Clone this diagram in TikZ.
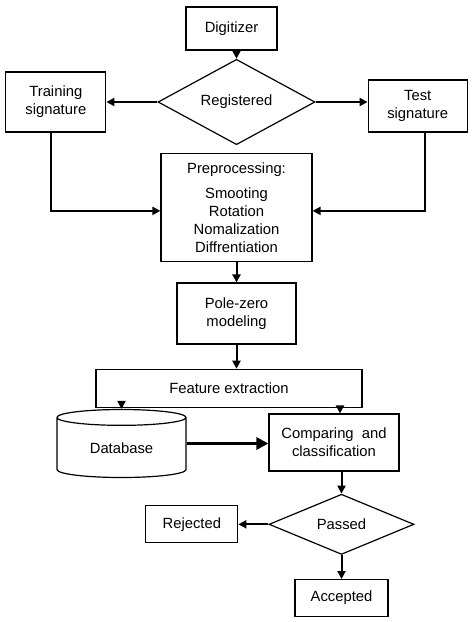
\documentclass[tikz,border=0pt]{standalone}
\usepackage{fontspec}
\setmainfont{Liberation Sans}
\usetikzlibrary{arrows.meta,shapes.geometric,positioning}

\begin{document}
\begin{tikzpicture}[
        x=1pt, y=-1pt,
        font=\fontsize{14.8}{18}\selectfont,
        node distance=20pt,
        >={Triangle[length=8pt,width=8pt]},
        box/.style={draw, line width=1.2pt, align=center, inner sep=0pt},
        decision/.style={draw, diamond, line width=1.2pt, align=center, inner sep=0pt},
        store/.style={draw, cylinder, shape border rotate=90, aspect=0.25, line width=1.2pt, inner sep=0pt},
        flow/.style={->, line width=2pt}
    ]

  \useasboundingbox (0,0) rectangle (474,622);

  % Nodes
  \node (digit) [box, minimum width=91pt, minimum height=43pt] at (231.5,28.5) {Digitizer};
  \node (reg) [decision, minimum width=157pt, minimum height=60pt] at (236.5,102) {Registered};
  \node (train) [box, left=51pt of reg, minimum width=100pt, minimum height=60pt] {Training\\signature};
  \node (test) [box, right=52pt of reg, yshift=-4pt, minimum width=99pt, minimum height=52pt] {Test\\signature};
  \node (prep) [box, below=8pt of reg, minimum width=151pt, minimum height=108pt] {Preprocessing:\\[7pt]Smooting\\Rotation\\Nomalization\\Diffrentiation};
  \node (pole) [box, below=20pt of prep, minimum width=119pt, minimum height=61pt] {Pole-zero\\modeling};
  \node (feat) [box, below=24pt of pole, xshift=-7.5pt, minimum width=266pt, minimum height=38pt] {Feature extraction};
  \node (db) [store, anchor=shape center, minimum width=129pt, minimum height=68pt] at (121.5,443.5) {Database};
  \node (comp) [box, minimum width=130pt, minimum height=57pt] at (334,442.5) {Comparing\ \ and\\classification};
  \node (passed) [decision, below=22pt of comp, xshift=7.5pt, minimum width=145pt, minimum height=60pt] {Passed};
  \node (rej) [box, left=30pt of passed, minimum width=92pt, minimum height=37pt] {Rejected};
  \node (acc) [box, below=24pt of passed, minimum width=93pt, minimum height=37pt] {Accepted};

  % Connectors
  \draw[flow] (reg.north |- digit.south) -- (reg.north);
  \draw[flow] (reg.west) -- (train.east);
  \draw[flow] (reg.east) -- (reg.east -| test.west);
  \draw[flow] ([xshift=-5pt]train.south) |- ([yshift=-3pt]prep.west);
  \draw[flow] ([xshift=7.5pt]test.south) |- ([yshift=-3pt]prep.east);
  \draw[flow] (prep.south) -- (pole.north);
  \draw[flow] (pole.south) -- (pole.south |- feat.north);
  \draw[flow] (db.top |- feat.south) -- (db.top);
  \draw[flow] ([xshift=6pt]comp.north |- feat.south) -- ([xshift=6pt]comp.north);
  \draw[->, line width=3.5pt, >={Triangle[length=12pt,width=12pt]}] (db.shape center -| db.east) -- (db.shape center -| comp.west);
  \draw[flow] (passed.north |- comp.south) -- (passed.north);
  \draw[flow] (passed.west) -- (rej.east);
  \draw[flow] (passed.south) -- (acc.north);
\end{tikzpicture}
\end{document}
